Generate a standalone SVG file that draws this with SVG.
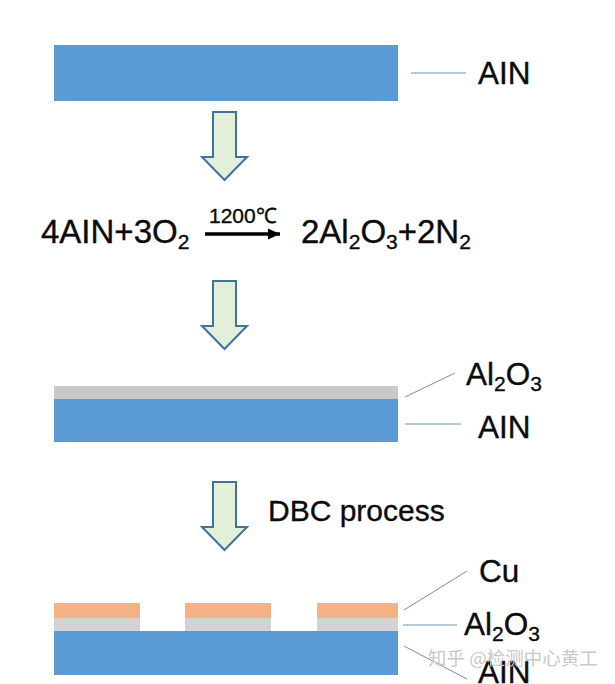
<svg xmlns="http://www.w3.org/2000/svg" width="615" height="684" viewBox="0 0 615 684">
<style>
text{font-family:"Liberation Sans",Arial,sans-serif;fill:#0b0b0b;stroke:#0b0b0b;stroke-width:.35px}
.t{font-size:31.500px}
.e{font-size:33px}
.s{font-size:21px}
.blue{fill:#5b9bd5}
.gray{fill:#c9c9c9}
.gray2{fill:#d3d3d3}
.cu{fill:#f4b183}
.lead{stroke:#6f93ad;stroke-width:1;fill:none}
.down{fill:#e2efd9;stroke:#41719c;stroke-width:2;stroke-linejoin:miter}
</style>
<defs>
<marker id="head" markerUnits="userSpaceOnUse" markerWidth="14" markerHeight="14" refX="12" refY="7" orient="auto"><path d="M0 1.500L12 7L0 12.500Z" fill="#000"/></marker>
<path id="downArrow" d="M-11.500 0H11.500V45H22.500L0 68L-22.500 45H-11.500Z"/>
</defs>
<rect width="615" height="684" fill="#fff"/>
<g id="connectors">
<path class="lead" d="M411 73H466"/>
<path class="lead" d="M405 397L455 373"/>
<path class="lead" d="M405 424H461"/>
<path class="lead" d="M404 610L467 571"/>
<path class="lead" d="M403 625H457"/>
<path class="lead" d="M404 646L467 679"/>
<path d="M205 234H280" stroke="#000" stroke-width="3.500" fill="none" marker-end="url(#head)"/>
<use href="#downArrow" class="down" x="224.500" y="112"/>
<use href="#downArrow" class="down" x="224.500" y="281"/>
<use href="#downArrow" class="down" x="224.500" y="482"/>
</g>
<g id="substrate-1"><rect class="blue" x="54" y="45" width="344" height="56"/></g>
<g id="label-ain-1"><text class="t" x="478" y="84">AIN</text></g>
<g id="equation">
<text class="e" x="41" y="243">4AIN+3O<tspan class="s" dy="6">2</tspan></text>
<text x="209" y="223" font-size="21">1200℃</text>
<text class="e" x="301" y="243">2Al<tspan class="s" dy="6">2</tspan><tspan dy="-6">O</tspan><tspan class="s" dy="6">3</tspan><tspan dy="-6">+2N</tspan><tspan class="s" dy="6">2</tspan></text>
</g>
<g id="substrate-2">
<rect class="gray" x="54" y="386" width="344" height="13"/>
<rect class="blue" x="54" y="399" width="344" height="43"/>
</g>
<g id="label-al2o3-2"><text class="t" x="466" y="385">Al<tspan class="s" dy="6">2</tspan><tspan dy="-6">O</tspan><tspan class="s" dy="6">3</tspan></text></g>
<g id="label-ain-2"><text class="t" x="478" y="438">AIN</text></g>
<g id="label-dbc"><text x="268" y="521" font-size="30">DBC process</text></g>
<g id="substrate-3">
<rect class="blue" x="54" y="631" width="344" height="44"/>
<rect class="gray2" x="54" y="618" width="86" height="13"/>
<rect class="gray2" x="185" y="618" width="86" height="13"/>
<rect class="gray2" x="317" y="618" width="81" height="13"/>
<rect class="cu" x="54" y="603" width="86" height="15"/>
<rect class="cu" x="185" y="603" width="86" height="15"/>
<rect class="cu" x="317" y="603" width="81" height="15"/>
</g>
<g id="label-cu"><text class="t" x="479" y="582">Cu</text></g>
<g id="label-al2o3-3"><text class="t" x="464" y="635">Al<tspan class="s" dy="6">2</tspan><tspan dy="-6">O</tspan><tspan class="s" dy="6">3</tspan></text></g>
<g id="label-ain-3"><text class="t" x="478" y="683">AIN</text></g>
<g id="watermark"><text x="428" y="665" font-size="18.500" style="font-family:'Noto Sans CJK SC',sans-serif;fill:#c8c8c8;stroke:none">知乎 @检测中心黄工</text></g>
</svg>
